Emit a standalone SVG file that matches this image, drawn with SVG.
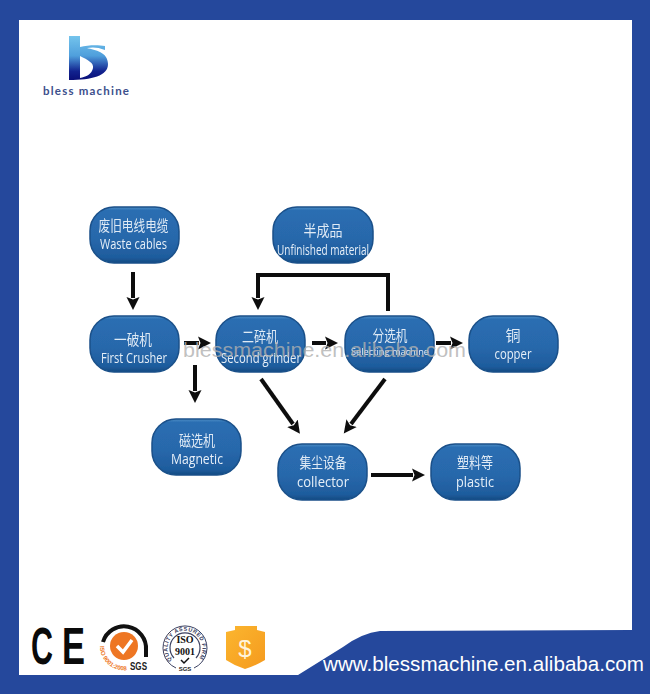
<svg xmlns="http://www.w3.org/2000/svg" width="650" height="694" viewBox="0 0 650 694">
<style>
.zh{font-family:"Noto Sans CJK SC","Noto Sans",sans-serif;font-size:15px;fill:#dfeaf5;text-anchor:middle}
.en{font-family:"Open Sans","Noto Sans",sans-serif;font-size:15px;fill:#e6eff8;text-anchor:middle}
.box{fill:url(#nodeFill);stroke:#1a5089;stroke-width:1.500}
.arrow{fill:none;stroke:#111;stroke-width:4;marker-end:url(#head)}
.soft{filter:url(#soft)}
</style>
<defs>
<filter id="soft" x="-5%" y="-5%" width="110%" height="110%"><feGaussianBlur stdDeviation="0.4"/></filter>
<linearGradient id="nodeFill" x1="0" y1="0" x2="0" y2="1">
<stop offset="0" stop-color="#4f8fc6"/><stop offset=".06" stop-color="#2a6eb2"/><stop offset=".55" stop-color="#2868ab"/><stop offset=".9" stop-color="#1e5c9d"/><stop offset="1" stop-color="#154a82"/>
</linearGradient>
<linearGradient id="logoFill" x1="0" y1="0" x2="0" y2="1">
<stop offset="0" stop-color="#74c4ec"/><stop offset=".45" stop-color="#4f9fdc"/><stop offset=".8" stop-color="#12238f"/><stop offset="1" stop-color="#0a0f78"/>
</linearGradient>
<linearGradient id="shieldFill" x1="0" y1="0" x2="1" y2="1">
<stop offset="0" stop-color="#fbb62f"/><stop offset="1" stop-color="#f59a1e"/>
</linearGradient>
<marker id="head" markerUnits="userSpaceOnUse" markerWidth="18" markerHeight="18" refX="1" refY="8" orient="auto">
<path d="M0 1.500 L13 8 L0 14.500 L2.500 8 Z" fill="#111"/>
</marker>
<path id="isoRing" d="M172 660 A17.500 17.500 0 1 1 198 660"/>
<path id="sgsRing" d="M100 646 A24 24 0 0 0 128 670"/>
</defs>

<g id="frame">
<rect width="650" height="694" fill="#25489c"/>
<rect x="19" y="20" width="613" height="655" fill="#fff"/>
<path d="M298 675 L343 647 Q362 633 380 631 L632 630 V675 Z" fill="#25489c"/>
</g>

<g id="logo">
<path fill="url(#logoFill)" fill-rule="evenodd" d="M69 36 H80 V47 C88 45 98 45 105 46 L105 50 C98 47 92 47 87 48 C95 50 108 52 108 64 C108 76 92 80 69 80 Z M80 56 C88 60 94 63 93 68 C92 74 86 77 80 78 Z"/>
<text x="43" y="95" font-family="Lato,'Open Sans',sans-serif" font-size="11.500" font-weight="700" fill="#3c4f8c" textLength="86" lengthAdjust="spacing">bless machine</text>
</g>

<g id="connectors" class="soft">
<path class="arrow" d="M133 272 V298"/>
<path class="arrow" d="M388 311 V275 H258 V298"/>
<path class="arrow" d="M184 343 H199"/>
<path class="arrow" d="M312 343 H326"/>
<path class="arrow" d="M436 343 H451"/>
<path class="arrow" d="M195 365 V391"/>
<path class="arrow" d="M261 379 L293 424"/>
<path class="arrow" d="M385 379 L351 424"/>
<path class="arrow" d="M371 475 H413"/>
</g>

<g id="n-waste" class="soft"><rect class="box" x="90" y="207" width="89" height="56" rx="24"/><text class="zh" x="133.500" y="231" textLength="70" lengthAdjust="spacingAndGlyphs">废旧电线电缆</text><text class="en" x="133.500" y="249" textLength="67" lengthAdjust="spacingAndGlyphs">Waste cables</text></g>
<g id="n-unfinished" class="soft"><rect class="box" x="273" y="207" width="100" height="56" rx="24"/><text class="zh" x="323" y="236" textLength="39" lengthAdjust="spacingAndGlyphs">半成品</text><text class="en" x="323" y="255" textLength="92" lengthAdjust="spacingAndGlyphs">Unfinished material</text></g>
<g id="n-first" class="soft"><rect class="box" x="90" y="316" width="89" height="56" rx="24"/><text class="zh" x="133" y="345" textLength="38" lengthAdjust="spacingAndGlyphs">一破机</text><text class="en" x="134" y="363" textLength="66" lengthAdjust="spacingAndGlyphs">First Crusher</text></g>
<g id="n-second" class="soft"><rect class="box" x="216" y="316" width="89" height="56" rx="24"/><text class="zh" x="260" y="342" textLength="36" lengthAdjust="spacingAndGlyphs">二碎机</text><text class="en" x="261" y="363" textLength="80" lengthAdjust="spacingAndGlyphs">Second grinder</text></g>
<g id="n-selecting" class="soft"><rect class="box" x="345" y="316" width="89" height="56" rx="24"/><text class="zh" x="390" y="341" textLength="35" lengthAdjust="spacingAndGlyphs">分选机</text><text class="en" style="font-size:9px" x="390" y="355" textLength="78" lengthAdjust="spacingAndGlyphs">Selecting machine</text></g>
<g id="n-copper" class="soft"><rect class="box" x="469" y="316" width="89" height="56" rx="24"/><text class="zh" x="513" y="341">铜</text><text class="en" x="513" y="359" textLength="37" lengthAdjust="spacingAndGlyphs">copper</text></g>
<g id="n-magnetic" class="soft"><rect class="box" x="152" y="419" width="89" height="56" rx="24"/><text class="zh" x="197" y="446" textLength="36" lengthAdjust="spacingAndGlyphs">磁选机</text><text class="en" x="197" y="464" textLength="52" lengthAdjust="spacingAndGlyphs">Magnetic</text></g>
<g id="n-collector" class="soft"><rect class="box" x="278" y="444" width="89" height="56" rx="24"/><text class="zh" x="323" y="468" textLength="47" lengthAdjust="spacingAndGlyphs">集尘设备</text><text class="en" x="323" y="487" textLength="52" lengthAdjust="spacingAndGlyphs">collector</text></g>
<g id="n-plastic" class="soft"><rect class="box" x="431" y="444" width="89" height="56" rx="24"/><text class="zh" x="475" y="468" textLength="36" lengthAdjust="spacingAndGlyphs">塑料等</text><text class="en" x="475" y="487" textLength="38" lengthAdjust="spacingAndGlyphs">plastic</text></g>

<text id="watermark" x="183" y="357" font-family="'Liberation Sans',sans-serif" font-size="20" fill="#b0b0b0" fill-opacity=".8" textLength="283" lengthAdjust="spacingAndGlyphs">blessmachine.en.alibaba.com</text>

<g id="badges">
<text x="31" y="664" font-family="'Liberation Sans',sans-serif" font-size="52" font-weight="700" fill="#0a0a0a" textLength="22" lengthAdjust="spacingAndGlyphs">C</text>
<text x="62" y="664" font-family="'Liberation Sans',sans-serif" font-size="52" font-weight="700" fill="#0a0a0a" textLength="23" lengthAdjust="spacingAndGlyphs">E</text>

<path d="M103 642 A22 22 0 0 1 146 650 L146 657" fill="none" stroke="#111" stroke-width="4"/>
<circle cx="124" cy="646" r="14" fill="#ee7623"/>
<path d="M117 646 L123 652 L132 640" fill="none" stroke="#fff" stroke-width="3.500"/>
<text font-family="'Liberation Sans',sans-serif" font-size="6" font-weight="700" fill="#ee7623"><textPath href="#sgsRing">ISO 9001:2008</textPath></text>
<text x="130" y="670" font-family="'Liberation Sans',sans-serif" font-size="10" font-weight="700" fill="#222" textLength="17" lengthAdjust="spacingAndGlyphs">SGS</text>

<path d="M176 668 A22 22 0 1 1 194 668" fill="none" stroke="#3a4060" stroke-width="1"/>
<path d="M174 658 A15 15 0 1 1 196 658" fill="none" stroke="#3a4060" stroke-width="1.200"/>
<text font-family="'Liberation Sans',sans-serif" font-size="5.500" font-weight="700" fill="#3a4060" textLength="78"><textPath href="#isoRing">QUALITY ASSURED FIRM</textPath></text>
<text x="185" y="643" text-anchor="middle" font-family="'Liberation Serif',serif" font-size="10" font-weight="700" fill="#111">ISO</text>
<text x="185" y="655" text-anchor="middle" font-family="'Liberation Serif',serif" font-size="10" font-weight="700" fill="#111">9001</text>
<path d="M181 660 L184 663 L189 658" fill="none" stroke="#111" stroke-width="1.500"/>
<text x="185" y="671" text-anchor="middle" font-family="'Liberation Sans',sans-serif" font-size="6" font-weight="700" fill="#222">SGS</text>

<path d="M226 632 L235 630 V626 H257 V630 L265 632 V660 Q255 666 245 669 Q235 666 226 660 Z" fill="url(#shieldFill)"/>
<text x="245" y="657" text-anchor="middle" font-family="'Liberation Sans',sans-serif" font-size="24" fill="#fff4dc">$</text>
</g>

<text id="url" x="323" y="671" font-family="'Liberation Sans',sans-serif" font-size="20.500" fill="#fff" textLength="321" lengthAdjust="spacingAndGlyphs">www.blessmachine.en.alibaba.com</text>
</svg>
